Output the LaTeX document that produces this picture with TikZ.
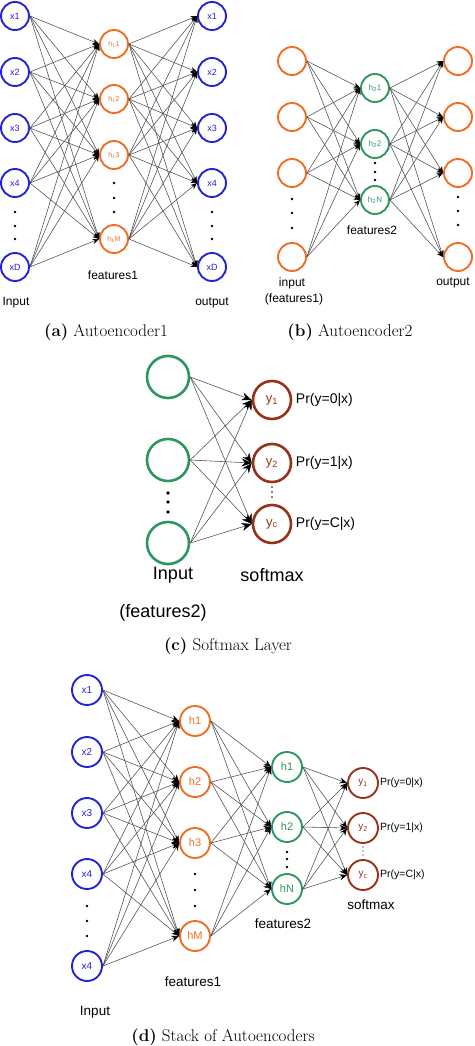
\documentclass[tikz,border=0pt]{standalone}
\usepackage{fontspec}
\newfontfamily\arial{Liberation Sans}
\usetikzlibrary{arrows.meta}
\definecolor{nnblue}{RGB}{35,35,215}
\definecolor{nnorange}{RGB}{240,110,35}
\definecolor{nngreen}{RGB}{45,150,95}
\definecolor{nnbrown}{RGB}{150,50,25}
\newcommand{\fs}[1]{\fontsize{#1}{#1}\selectfont}
\begin{document}
\begin{tikzpicture}[x=1pt, y=-1pt, line width=0.55pt,
  main node/.style={circle,draw,inner sep=0pt,line width=1.9pt,font=\arial\fs{9}},
  blue node/.style={main node,nnblue,text=nnblue,minimum size=28pt},
  orange node/.style={main node,nnorange,text=nnorange,minimum size=28pt},
  green node/.style={main node,nngreen,text=nngreen,minimum size=28pt},
  brown node/.style={main node,nnbrown,text=nnbrown,minimum size=30pt},
  link/.style={draw=black!70,-{Stealth[length=#1,width=0.8*#1,black]}},
  link/.default=6.5pt,
  lbl/.style={font=\arial\fs{12}},
  caption/.style={font=\fs{17}}]
\useasboundingbox (0,0) rectangle (474,1046);

% (a) Autoencoder1
\foreach \n/\y/\t in {1/16/x1,2/72/x2,3/128/x3,4/183/x4,5/267/xD} {
  \node [blue node](ai\n) at (15,\y) {\t};
  \node [blue node](ao\n) at (212,\y) {\t};
}
\foreach \n/\y/\t in {1/44/1,2/99/2,3/155/3,4/239/M}
  \node [orange node,font=\arial\fs{7}](ah\n) at (114,\y) {h\textsubscript{1}\t};
\foreach \i in {1,...,5} \foreach \j in {1,...,4} {
  \draw [link] (ai\i.east) -- (ah\j.west);
  \draw [link] (ah\j.east) -- (ao\i.west);
}
\foreach \y in {212,226,239} {\fill (15,\y) circle (1.3); \fill (212,\y) circle (1.3);}
\foreach \y in {183,198,212} \fill (114,\y) circle (1.3);
\node [lbl](afeat) at (113,275) {features1};
\node [lbl](ain) at (16,303) {Input};
\node [lbl](aout) at (212,303) {output};
\node [caption](acap) at (106,332) {\textbf{(a)} Autoencoder1};

% (b) Autoencoder2
\foreach \n/\y in {1/61,2/117,3/173,4/257} {
  \node [orange node](bi\n) at (292,\y) {};
  \node [orange node](bo\n) at (458,\y) {};
}
\foreach \n/\y/\t in {1/88/1,2/144/2,3/200/N}
  \node [green node,font=\arial\fs{8}](bh\n) at (375,\y) {h\textsubscript{2}\t};
\foreach \i in {1,...,4} \foreach \j in {1,...,3} {
  \draw [link] (bi\i.east) -- (bh\j.west);
  \draw [link] (bh\j.east) -- (bo\i.west);
}
\foreach \y in {199,213,228} \fill (292,\y) circle (1.3);
\foreach \y in {197,211,225} \fill (458,\y) circle (1.3);
\foreach \y in {163,172,180} \fill (375,\y) circle (1.3);
\node [lbl](bfeat) at (372,230) {features2};
\node [lbl](bin) at (292,283) {input};
\node [lbl](bin2) at (294,299) {(features1)};
\node [lbl](bout) at (453,283) {output};
\node [caption](bcap) at (350,332) {\textbf{(b)} Autoencoder2};

% (c) Softmax Layer
\foreach \n/\y in {1/377,2/460,3/543}
  \node [green node,minimum size=42pt,line width=2.6pt](ci\n) at (168,\y) {};
\foreach \n/\y/\t/\v in {1/400/1/0,2/463/2/1,3/524/c/C} {
  \node [brown node,minimum size=38pt,line width=2.6pt,font=\arial\fs{13}](cy\n) at (272,\y) {y\textsubscript{\t}};
  \node [anchor=west,font=\arial\fs{14}](cp\n) at (cy\n.east) {Pr(y=\v|x)};
}
\foreach \i in {1,...,3} \foreach \j in {1,...,3}
  \draw [link=10pt] (ci\i.east) -- (cy\j.west);
\foreach \y in {493,502,512} \fill (168,\y) circle (1.8);
\foreach \y in {487,492,497} \fill (272,\y) circle (0.8);
\node [lbl,font=\arial\fs{18}](cin) at (173,575) {Input};
\node [lbl,font=\arial\fs{18}](csoft) at (272,575) {softmax};
\node [lbl,font=\arial\fs{18}](cin2) at (163,613) {(features2)};
\node [caption](ccap) at (228,646) {\textbf{(c)} Softmax Layer};

% (d) Stack of Autoencoders
\foreach \n/\y/\t in {1/690/x1,2/752/x2,3/813/x3,4/874/x4,5/966/x4}
  \node [blue node,minimum size=30pt,font=\arial\fs{10}](di\n) at (87,\y) {\t};
\foreach \n/\y/\t in {1/721/h1,2/782/h2,3/843/h3,4/936/hM}
  \node [orange node,minimum size=30pt,font=\arial\fs{11}](dh\n) at (195,\y) {\t};
\foreach \n/\y/\t in {1/767/h1,2/827/h2,3/889/hN}
  \node [green node,minimum size=30pt,font=\arial\fs{11}](dg\n) at (287,\y) {\t};
\foreach \n/\y/\t/\v in {1/783/1/0,2/828/2/1,3/875/c/C} {
  \node [brown node,minimum size=30pt,font=\arial\fs{10}](dy\n) at (363,\y) {y\textsubscript{\t}};
  \node [anchor=west,inner sep=1pt,font=\arial\fs{10.5}](dp\n) at (dy\n.east) {Pr(y=\v|x)};
}
\foreach \i in {1,...,5} \foreach \j in {1,...,4}
  \draw [link=7.5pt] (di\i.east) -- (dh\j.west);
\foreach \i in {1,...,4} \foreach \j in {1,...,3}
  \draw [link=7.5pt] (dh\i.east) -- (dg\j.west);
\foreach \i in {1,...,3} \foreach \j in {1,...,3}
  \draw [link=7.5pt] (dg\i.east) -- (dy\j.west);
\foreach \y in {906,921,936} \fill (87,\y) circle (1.3);
\foreach \y in {874,890,906} \fill (195,\y) circle (1.3);
\foreach \y in {852,859,867} \fill (287,\y) circle (1.4);
\foreach \y in {847,851,855} \fill (363,\y) circle (0.7);
\node [lbl,font=\arial\fs{13.5}](dsoft) at (371,905) {softmax};
\node [lbl,font=\arial\fs{13.5}](dfeat2) at (283,924) {features2};
\node [lbl,font=\arial\fs{13.5}](dfeat1) at (193,982) {features1};
\node [lbl,font=\arial\fs{13.5}](din) at (95,1012) {Input};
\node [caption](dcap) at (223,1037) {\textbf{(d)} Stack of Autoencoders};
\end{tikzpicture}
\end{document}
